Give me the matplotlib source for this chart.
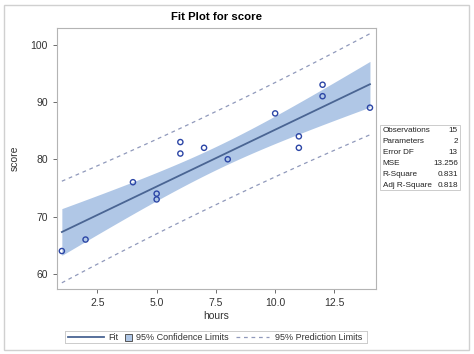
import numpy as np
import matplotlib
matplotlib.use('Agg')
import matplotlib.pyplot as plt
from matplotlib.patches import Rectangle

plt.rcParams['font.family'] = ['Liberation Sans', 'DejaVu Sans']

hours = [1, 2, 4, 5, 5, 6, 6, 7, 8, 10, 11, 11, 12, 12, 14]
score = [64, 66, 76, 73, 74, 81, 83, 82, 80, 88, 82, 84, 91, 93, 89]
stat_names = ['Observations', 'Parameters', 'Error DF', 'MSE', 'R-Square', 'Adj R-Square']
stat_values = ['15', '2', '13', '13.256', '0.831', '0.818']
legend_labels = ['Fit', '95% Confidence Limits', '95% Prediction Limits']
t_crit = 2.1604  # t(0.975, 13)

x = np.array(hours, dtype=float)
y = np.array(score, dtype=float)
n = len(x)
slope, intercept = np.polyfit(x, y, 1)
resid = y - (intercept + slope * x)
mse = np.sum(resid ** 2) / (n - 2)
sxx = np.sum((x - x.mean()) ** 2)

xs = np.linspace(x.min(), x.max(), 200)
fit = intercept + slope * xs
se_mean = np.sqrt(mse * (1 / n + (xs - x.mean()) ** 2 / sxx))
se_pred = np.sqrt(mse * (1 + 1 / n + (xs - x.mean()) ** 2 / sxx))

fit_color = '#4a6593'
band_color = '#b0c7e6'
marker_color = '#2c46a6'
pred_color = '#9099bb'
frame_color = '#b4b4b4'
text_color = '#333333'

fig = plt.figure(figsize=(4.74, 3.54), dpi=100)
fig.patches.append(Rectangle((0.008, 0.012), 0.982, 0.975, transform=fig.transFigure,
                             fill=False, edgecolor='#d0d0d0', linewidth=1))

ax = fig.add_axes([0.120, 0.184, 0.673, 0.737])
ax.fill_between(xs, fit - t_crit * se_mean, fit + t_crit * se_mean,
                color=band_color, linewidth=0, zorder=1)
ax.plot(xs, fit, color=fit_color, linewidth=1.3, zorder=3)
ax.plot(xs, fit + t_crit * se_pred, color=pred_color, linestyle=(0, (3, 3)),
        linewidth=0.9, zorder=2)
ax.plot(xs, fit - t_crit * se_pred, color=pred_color, linestyle=(0, (3, 3)),
        linewidth=0.9, zorder=2)
ax.scatter(x, y, s=14, facecolors='none', edgecolors=marker_color,
           linewidths=1.0, zorder=4)

ax.set_xlim(0.79, 14.25)
ax.set_ylim(57.4, 102.9)
ax.set_xticks([2.5, 5.0, 7.5, 10.0, 12.5])
ax.set_xticklabels(['2.5', '5.0', '7.5', '10.0', '12.5'])
ax.set_yticks([60, 70, 80, 90, 100])
for sp in ax.spines.values():
    sp.set_color(frame_color)
ax.tick_params(colors='#555555', labelcolor=text_color, labelsize=7.5,
               length=3, width=0.6)
ax.set_xlabel('hours', fontsize=7.5, color=text_color)
ax.set_ylabel('score', fontsize=7.5, color=text_color)
ax.xaxis.set_label_coords(0.5, -0.083)
ax.yaxis.set_label_coords(-0.116, 0.5)
ax.set_title('Fit Plot for score', fontsize=8.2, fontweight='bold', pad=6)

# fit statistics inset
fig.patches.append(Rectangle((0.802, 0.462), 0.168, 0.185, transform=fig.transFigure,
                             fill=False, edgecolor='#cccccc', linewidth=0.7))
row_h = 0.031
for i, (name, val) in enumerate(zip(stat_names, stat_values)):
    yy = 0.632 - i * row_h
    fig.text(0.807, yy, name, fontsize=5.9, va='center', ha='left', color='#222222')
    fig.text(0.966, yy, val, fontsize=5.9, va='center', ha='right', color='#222222')

# legend drawn in its own pixel-scaled axes
lax = fig.add_axes([65 / 474, 11 / 354, 302 / 474, 12 / 354])
lax.set_xlim(0, 302)
lax.set_ylim(0, 12)
lax.set_xticks([])
lax.set_yticks([])
for sp in lax.spines.values():
    sp.set_color('#cccccc')
    sp.set_linewidth(0.7)
lax.plot([3, 39], [6, 6], color=fit_color, linewidth=1.3)
lax.text(43, 6, legend_labels[0], fontsize=6.5, va='center', ha='left', color=text_color)
lax.add_patch(Rectangle((60, 2.5), 7, 7, facecolor=band_color,
                        edgecolor='#555555', linewidth=0.7))
lax.text(71, 6, legend_labels[1], fontsize=6.5, va='center', ha='left', color=text_color)
lax.plot([171, 204], [6, 6], color=pred_color, linestyle=(0, (3, 3)), linewidth=0.9)
lax.text(210, 6, legend_labels[2], fontsize=6.5, va='center', ha='left', color=text_color)

fig.savefig('out.png', dpi=100)
